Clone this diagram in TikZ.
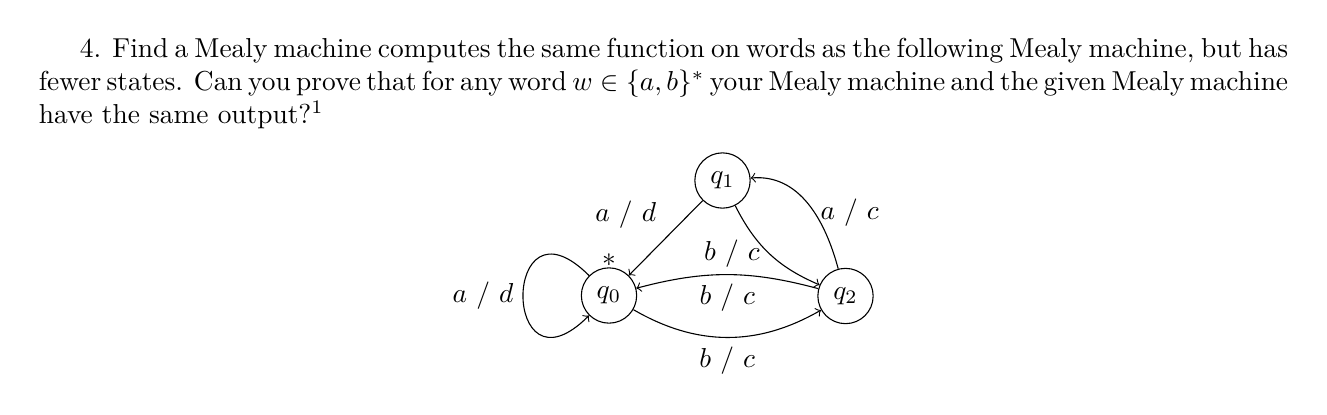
\documentclass[tikz,border=0pt]{standalone}
\usepackage{amsmath, amssymb}
\usetikzlibrary{positioning}

\begin{document}
\begin{tikzpicture}[x=0.365pt, y=-0.365pt,
    mstate/.style={draw, circle},
    trans/.style={->}]
  \useasboundingbox (0,0) rectangle (1327,414);

  % the exercise text
  \node[anchor=base west, text width=456pt, inner sep=0pt, align=justify,
        execute at begin node={\hyphenpenalty=10000 \spaceskip=0.333em plus 0.3em minus 0.2em}] (task) at (38.3,57.3) {
    \hspace*{15pt}4. Find a Mealy machine computes the same function on words as the following Mealy machine, but has\linebreak
    fewer states. Can you prove that for any word $w \in \{a, b\}^*$ your Mealy machine and the given Mealy machine\linebreak
    have the same output?\textsuperscript{1}
  };

  % states
  \node[mstate] (q0) at (609,295.5) {$q_0$};
  \node[mstate] (q1) at (722.5,180.5) {$q_1$};
  \node[mstate] (q2) at (845.5,296) {$q_2$};
  \node[above=0pt of q0, inner sep=0pt] (star) {$*$};

  % transitions
  \draw[trans] (q0) to[out=135, in=225, looseness=8] node[left] (l00) {$a \ / \ d$} (q0);
  \draw[trans] (q1) -- node[above left] (l10) {$a \ / \ d$} (q0);
  \draw[trans] (q1) to[bend right=20] node[left] (l12) {$b \ / \ c$} (q2);
  \draw[trans] (q2) to[out=105, in=5] node[pos=0.42, anchor=west, inner sep=2pt] (l21) {$a \ / \ c$} (q1);
  \draw[trans] (q2) to[bend right=15] node[below] (l20) {$b \ / \ c$} (q0);
  \draw[trans] (q0) to[bend right] node[below] (l02) {$b \ / \ c$} (q2);
\end{tikzpicture}
\end{document}
